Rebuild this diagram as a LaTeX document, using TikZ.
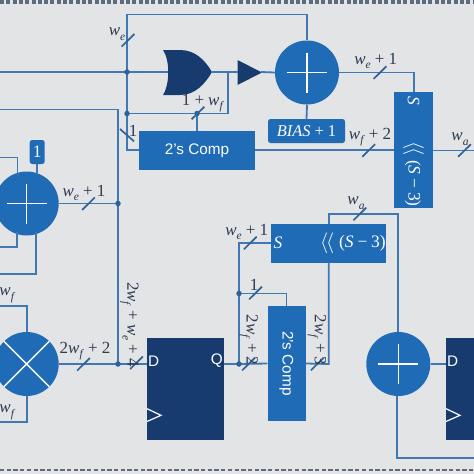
\documentclass[tikz,border=0pt]{standalone}
\usepackage{fontspec}
\setmainfont{Liberation Serif}
\setsansfont{Liberation Sans}
\definecolor{bgc}{HTML}{E3E4E6}
\definecolor{wire}{HTML}{3F78B2}
\definecolor{tickc}{HTML}{2F6299}
\definecolor{blk}{HTML}{1F6BB5}
\definecolor{navy}{HTML}{173B6F}
\definecolor{txt}{HTML}{2C3A52}
\definecolor{dashc}{HTML}{5C6B80}
\newcommand{\wsub}[1]{\textit{w}\raisebox{-0.28em}{\fontsize{11.5}{12}\selectfont\textit{#1}}}
\newcommand{\gap}{\hspace{0.24em}}
\newcommand{\shifttext}{\raisebox{-0.02em}{\fontsize{21}{21}\selectfont$\langle\kern-0.1em\langle$}\hspace{0.28em}(\textit{S}\hspace{0.22em}−\hspace{0.22em}3)}
\tikzset{
  conn/.style={draw=wire,line width=1.8pt},
  tickmark/.style={draw=tickc,line width=1.7pt},
  jdot/.style={circle,fill=tickc,inner sep=0pt,minimum size=5.5pt},
  sumcirc/.style={circle,fill=blk,inner sep=0pt,minimum size=64pt,path picture={
    \draw[white,line width=1.2pt] (path picture bounding box.center) +(-20,0) -- +(20,0) +(0,-20) -- +(0,20);}},
  mulcirc/.style={circle,fill=blk,inner sep=0pt,minimum size=64pt,path picture={
    \draw[white,line width=1.4pt] (path picture bounding box.center) +(-33,-33) -- +(33,33) +(-33,33) -- +(33,-33);}},
  block/.style={fill=blk,inner sep=0pt,minimum width=#1},
  ffblock/.style={fill=navy,inner sep=0pt,minimum width=77pt,minimum height=102.5pt},
  lab/.style={text=txt,inner sep=0pt,font=\fontsize{17}{20}\selectfont},
  wlab/.style={text=white,inner sep=0pt,font=\fontsize{17.5}{20}\selectfont},
  slab/.style={text=white,inner sep=0pt,font=\sffamily\fontsize{15.3}{18}\selectfont},
}
\newcommand{\slashmark}[2]{\draw[tickmark] (#1,#2) ++(-6.4,6.3) -- ++(12.8,-12.6);}
\begin{document}
\begin{tikzpicture}[x=1pt,y=-1pt]
\useasboundingbox (0,0) rectangle (474,474);
\clip (0,0) rectangle (474,474);
\fill[bgc] (0,0) rectangle (474,474);
\draw[dashc,line width=3.2pt,dash pattern=on 4pt off 2.3pt] (0,2) -- (474,2);
\draw[dashc,line width=2pt,dash pattern=on 4.3pt off 2.4pt] (0,470.3) -- (474,470.3);
% nodes
\node[sumcirc] (addT) at (307,72.5) {};
\node[sumcirc] (addL) at (26.7,203.5) {};
\node[mulcirc] (mul) at (26.7,364) {};
\node[sumcirc] (addR) at (398.3,364) {};
\node[block=77pt,minimum height=24pt,rounded corners=2.5pt] (bias) at (306.5,131) {};
\node[wlab,font=\fontsize{16.5}{20}\selectfont] at (bias) {\textit{BIAS}\gap+\gap1};
\node[block=15pt,minimum height=24pt,rounded corners=2.5pt] (one) at (37.2,152) {};
\node[wlab] at (one) {1};
\node[block=116pt,minimum height=38.5pt] (compT) at (197,150.25) {};
\node[slab] at (compT) {2's Comp};
\node[block=39pt,minimum height=116pt] (shT) at (413.5,150) {};
\node[wlab,rotate=-90] at (413.5,101) {\textit{S}};
\node[wlab,rotate=-90,anchor=east] at (413.5,207) {\shifttext};
\node[block=115.5pt,minimum height=38.5pt] (shB) at (328.7,243.3) {};
\node[wlab] at (278,243) {\textit{S}};
\node[wlab,anchor=east] at (386,243) {\shifttext};
\node[block=38pt,minimum height=115pt] (compB) at (286.5,363.5) {};
\node[slab,rotate=-90] at (compB) {2's Comp};
\node[ffblock] (ffA) at (185.5,389) {};
\node[ffblock] (ffB) at (484.5,389) {};
\node[slab,anchor=west] at (148,361) {D};
\node[slab,anchor=east] at (223,361) {Q};
\node[slab,anchor=west] at (447,361) {D};
% OR gate and buffer
\coordinate (orin) at (168,72);
\coordinate (orout) at (211,72);
\coordinate (bufin) at (238,72);
\coordinate (bufout) at (261,72);
\fill[navy] (163,50) .. controls (170,60) and (170,84) .. (163,95) -- (180,95)
  .. controls (195,95) and (205,84) .. (212,72) .. controls (205,60) and (195,50) .. (180,50) -- cycle;
\fill[navy] (237.5,60) -- (262,72.5) -- (237.5,85) -- cycle;
% clock marks
\draw[white,line width=1.2pt] (147,408.7) -- (161,415.3) -- (147,421.5);
\draw[white,line width=1.2pt] (446,408.7) -- (460,415.3) -- (446,421.5);
% junction points
\coordinate (jA) at (127,72);
\coordinate (jB) at (127,113.5);
\coordinate (jC) at (197,113.5);
\coordinate (jD) at (228,72);
\coordinate (jE) at (118,203.5);
\coordinate (jF) at (118,364);
\coordinate (jG) at (239,364);
\coordinate (jH) at (239,293.5);
\coordinate (topL) at (127,14.5);
\coordinate (lA) at (-2,72);
\coordinate (lB) at (-2,109.5);
\coordinate (lC) at (-2,157.5);
\coordinate (lD) at (-2,247);
\coordinate (lE) at (-2,274);
\coordinate (lF) at (-2,306);
\coordinate (lG) at (-2,422);
\coordinate (rA) at (476,150.5);
\coordinate (rB) at (476,457.7);
% connectors
\draw[conn] (lA) -- (jA) -- (orin);
\draw[conn] (orout) -- (bufin);
\draw[conn] (bufout) -- (addT.west);
\draw[conn] (jD) -- (228,113.5) -- (jB);
\draw[conn] (addT.north) -- (307,14.5) -- (topL) -- (jA) -- (jB) -- (127,150.25) -- (compT.west);
\draw[conn] (compT.north -| jC) -- (jC);
\draw[conn] (addT.south) -- (bias.north);
\draw[conn] (addT.east) -- (414,72.5) -- (414,92);
\draw[conn] (compT.east) -- (394,150.25);
\draw[conn] (433,150.5) -- (rA);
\draw[conn] (lB) -- (118,109.5) -- (jE) -- (jF);
\draw[conn] (addL.east) -- (jE);
\draw[conn] (one.south) -- (37.2,173);
\draw[conn] (lC) -- (17.5,157.5) -- (17.5,175);
\draw[conn] (17,232) -- (17,247) -- (lD);
\draw[conn] (36,232) -- (36,274) -- (lE);
\draw[conn] (mul.north) -- (26.7,306) -- (lF);
\draw[conn] (mul.south) -- (26.7,422) -- (lG);
\draw[conn] (mul.east) -- (jF) -- (147,364);
\draw[conn] (224,364) -- (jG) -- (compB.west);
\draw[conn] (jG) -- (jH) -- (239,243.3) -- (shB.west);
\draw[conn] (jH) -- (286.5,293.5) -- (compB.north);
\draw[conn] (compB.east) -- (328.7,364) -- (shB.south);
\draw[conn] (328.7,224) -- (328.7,214) -- (398.3,214) -- (addR.north);
\draw[conn] (addR.east) -- (446,364);
\draw[conn] (397,396) -- (397,457.7) -- (rB);
% junction dots
\foreach \p/\n in {jA/dA,jB/dB,jC/dC,jE/dE,jF/dF,jG/dG,jH/dH} \node[jdot] (\n) at (\p) {};
% bus ticks
\slashmark{128}{40.3}
\draw[tickmark] (120,129) -- (134,141.3);
\slashmark{198}{113}
\slashmark{88.5}{203.7}
\slashmark{380}{72.6}
\slashmark{368.7}{150.5}
\slashmark{464.5}{150.5}
\slashmark{359.8}{214}
\slashmark{83.5}{364.3}
\slashmark{136.5}{362.8}
\slashmark{248.6}{364}
\slashmark{317.3}{364}
\slashmark{255.6}{293}
\slashmark{250.3}{243}
% labels
\node[lab] at (117,34) {\wsub{e}};
\node[lab] at (133,131) {1};
\node[lab] at (203,103) {1\gap+\gap\wsub{f}};
\node[lab] at (84,193) {\wsub{e}\gap+\gap1};
\node[lab] at (375.7,61) {\wsub{e}\gap+\gap1};
\node[lab] at (370,137) {\wsub{f}\gap+\gap2};
\node[lab] at (460,139) {\wsub{a}};
\node[lab] at (356,203) {\wsub{a}};
\node[lab] at (246.7,232) {\wsub{e}\gap+\gap1};
\node[lab] at (254,285) {1};
\node[lab] at (85,351) {2\wsub{f}\gap+\gap2};
\node[lab,anchor=east] at (15.5,295.5) {\wsub{f}};
\node[lab,anchor=east] at (15.5,412) {\wsub{f}};
\node[lab,rotate=-90] at (129.5,324.5) {2\wsub{f}\gap+\gap\wsub{e}\gap+\gap4};
\node[lab,rotate=-90] at (248.7,340) {2\wsub{f}\gap+\gap2};
\node[lab,rotate=-90] at (317,340) {2\wsub{f}\gap+\gap3};
\end{tikzpicture}
\end{document}
